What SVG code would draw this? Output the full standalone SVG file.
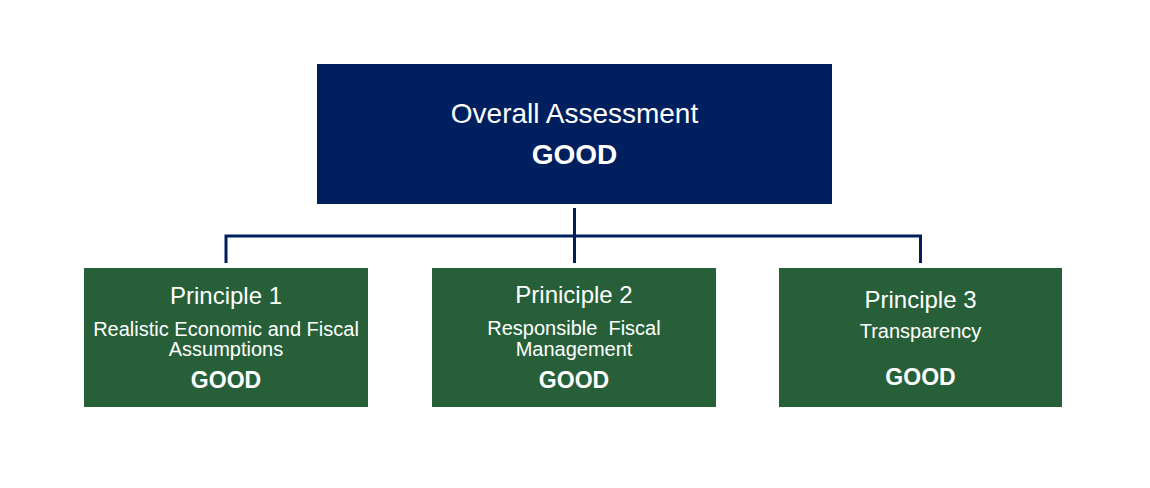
<svg xmlns="http://www.w3.org/2000/svg" width="1150" height="488" viewBox="0 0 1150 488">
<style>
.bg{fill:#ffffff}
.top{fill:#001F5E}
.box{fill:#276038}
.conn{stroke:#001F5E;stroke-width:3;fill:none}
text{font-family:"Liberation Sans",Arial,sans-serif;fill:#ffffff;text-anchor:middle}
.t1{font-size:28px}
.g1{font-size:28px;font-weight:bold}
.h{font-size:24px}
.s{font-size:20px}
.g{font-size:23px;font-weight:bold}
</style>
<rect class="bg" x="0" y="0" width="1150" height="488"/>
<g id="connectors">
<path class="conn" d="M574.5 208 V236"/>
<path class="conn" d="M226 263 V236 H920.5 V263"/>
<path class="conn" d="M574.5 236 V263"/>
</g>
<g id="overall">
<rect class="top" x="317" y="64" width="515" height="140"/>
<text class="t1" x="574.5" y="122.5">Overall Assessment</text>
<text class="g1" x="574.5" y="163.5">GOOD</text>
</g>
<g id="principle1">
<rect class="box" x="84" y="268" width="284" height="139"/>
<text class="h" x="226" y="303.5">Principle 1</text>
<text class="s" x="226" y="336">Realistic Economic and Fiscal</text>
<text class="s" x="226" y="356">Assumptions</text>
<text class="g" x="226" y="387.5">GOOD</text>
</g>
<g id="principle2">
<rect class="box" x="432" y="268" width="284" height="139"/>
<text class="h" x="574" y="303">Priniciple 2</text>
<text class="s" x="574" y="335" xml:space="preserve">Responsible  Fiscal</text>
<text class="s" x="574" y="355.5">Management</text>
<text class="g" x="574" y="387.5">GOOD</text>
</g>
<g id="principle3">
<rect class="box" x="779" y="268" width="283" height="139"/>
<text class="h" x="920.5" y="307.5">Principle 3</text>
<text class="s" x="920.5" y="338">Transparency</text>
<text class="g" x="920.5" y="385">GOOD</text>
</g>
</svg>
